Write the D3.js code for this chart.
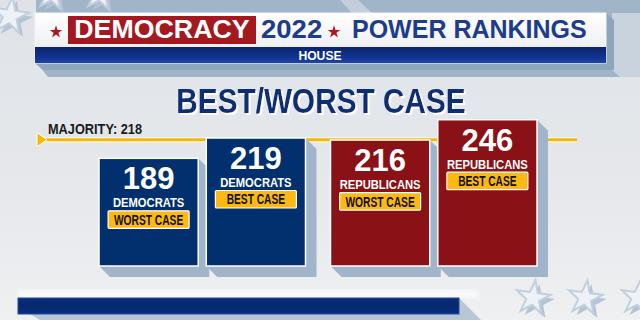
<!DOCTYPE html>
<html>
<head>
<meta charset="utf-8">
<script src="https://cdn.jsdelivr.net/npm/d3@7"></script>
<style>
  html, body { margin: 0; padding: 0; background: #e3e6ea; }
  svg { display: block; }
  text { font-family: "Liberation Sans", Arial, sans-serif; font-weight: bold; }
</style>
</head>
<body>
<div id="chart"></div>
<script>
// Chart values
const parties = ['DEMOCRATS', 'DEMOCRATS', 'REPUBLICANS', 'REPUBLICANS'];
const cases = ['WORST CASE', 'BEST CASE', 'WORST CASE', 'BEST CASE'];
const seats = [189, 219, 216, 246];
const majority = 218;
const majorityLabel = 'MAJORITY: ' + majority;
const title = 'BEST/WORST CASE';
const chamber = 'HOUSE';

const width = 640, height = 320;
const partyColor = { DEMOCRATS: '#02306f', REPUBLICANS: '#8a1116' };

const svg = d3.select('#chart').append('svg')
    .attr('width', width).attr('height', height);

const defs = svg.append('defs');
function gradient(id, stops, vertical = true) {
    const g = defs.append('linearGradient').attr('id', id)
        .attr('x1', 0).attr('y1', 0).attr('x2', vertical ? 0 : 1).attr('y2', vertical ? 1 : 0);
    stops.forEach(([o, c]) => g.append('stop').attr('offset', o).attr('stop-color', c));
}
gradient('bg', [[0, '#dfe3e8'], [0.6, '#e6e8eb'], [1, '#eef0f2']]);
gradient('band', [[0, '#ffffff'], [1, '#e6e8ec']]);
gradient('strip', [[0, '#0a2468'], [0.7, '#123594'], [1, '#1c46a6']]);
gradient('floor', [[0, '#0b2c74'], [0.5, '#03296c'], [1, '#0a2f7e']]);
const blur = defs.append('filter').attr('id', 'soft');
blur.append('feGaussianBlur').attr('stdDeviation', 2);
// Light drop shadow for the big title
defs.append('filter').attr('id', 'lift')
    .append('feDropShadow').attr('dx', 2).attr('dy', 2).attr('stdDeviation', 0.6)
    .attr('flood-color', '#ffffff').attr('flood-opacity', 0.9);

// Background
svg.append('rect').attr('width', width).attr('height', height).attr('fill', 'url(#bg)');
svg.append('path')
    .attr('d', 'M36,0 L640,0 L640,13 L620,13 L620,77 L48,77 L36,62 Z')
    .attr('fill', '#a1b5c9');
svg.append('path')
    .attr('d', 'M612,13 L640,13 L640,77 L620,77 L612,70 Z')
    .attr('fill', '#c9d3de');
svg.append('path')
    .attr('d', 'M340,0 L358,0 L372,13 L352,13 Z')
    .attr('fill', '#c3cfdb');

// Decorative stars
const star = d3.symbol().type(d3.symbolStar);
function drawStar(cx, cy, size) {
    svg.append('path').attr('d', star.size(size)())
        .attr('transform', `translate(${cx + 4},${cy + 4}) rotate(8)`)
        .attr('fill', '#b4c4d4');
    svg.append('path').attr('d', star.size(size)())
        .attr('transform', `translate(${cx},${cy}) rotate(8)`)
        .attr('fill', '#eef2f7').attr('stroke', '#c2cfdc').attr('stroke-width', 2);
}
[[10, 16, 420], [52, -6, 320], [100, -6, 320]].forEach(d => drawStar(...d));
[[533, 298, 360], [585, 298, 360], [638, 298, 360]].forEach(d => drawStar(...d));

// Header banner
svg.append('path')
    .attr('d', 'M606,13 L614,20 L614,70 L43,70 L35,63 L606,63 Z')
    .attr('fill', '#8ea5bc');
svg.append('rect').attr('x', 35).attr('y', 13).attr('width', 571).attr('height', 50)
    .attr('fill', 'url(#band)').attr('stroke', '#f4f6f8').attr('stroke-width', 1);
svg.append('rect').attr('x', 35).attr('y', 47).attr('width', 571).attr('height', 16)
    .attr('fill', 'url(#strip)');
svg.append('rect').attr('x', 68).attr('y', 16).attr('width', 188).attr('height', 28)
    .attr('fill', '#a3191f');

function squeeze(sel, k) {
    sel.each(function () {
        const w = this.getComputedTextLength();
        d3.select(this).attr('textLength', w * k).attr('lengthAdjust', 'spacingAndGlyphs');
    });
    return sel;
}

const redStar = d3.symbol().type(d3.symbolStar).size(50);
[56, 334].forEach(cx => svg.append('path').attr('d', redStar())
    .attr('transform', `translate(${cx},32)`).attr('fill', '#b0161d'));

squeeze(svg.append('text').attr('x', 162).attr('y', 38).attr('text-anchor', 'middle')
    .attr('font-size', 25).attr('fill', '#ffffff').text('DEMOCRACY'), 1.07);
squeeze(svg.append('text').attr('x', 261).attr('y', 38)
    .attr('font-size', 25).attr('fill', '#1d3c8b').text('2022'), 1.1);
squeeze(svg.append('text').attr('x', 352).attr('y', 38)
    .attr('font-size', 25).attr('fill', '#1d3c8b').text('POWER RANKINGS'), 1.0);
squeeze(svg.append('text').attr('x', 320).attr('y', 60).attr('text-anchor', 'middle')
    .attr('font-size', 13.5).attr('fill', '#ffffff').text(chamber), 0.9);

// Title
squeeze(svg.append('text').attr('x', 321).attr('y', 113).attr('text-anchor', 'middle')
    .attr('font-size', 35).attr('fill', '#0d2f6f').attr('filter', 'url(#lift)')
    .text(title), 0.85);

// Scales
const x0 = d3.scaleBand().domain(['DEMOCRATS', 'REPUBLICANS']).range([99, 537]).paddingInner(0.108);
const x1 = d3.scaleBand().domain(['WORST CASE', 'BEST CASE']).range([0, x0.bandwidth()]).paddingInner(0.075);
const y = d3.scaleLinear().domain([30, 250]).range([266, 117]);

const data = seats.map((v, i) => ({ party: parties[i], kase: cases[i], value: v }));
const bx = d => x0(d.party) + x1(d.kase);
const bw = x1.bandwidth();
const base = y.range()[0];

// Majority line (behind bars)
const my = y(majority) + 1;
svg.append('line').attr('x1', 40).attr('x2', 577).attr('y1', my).attr('y2', my)
    .attr('stroke', '#ffffff').attr('stroke-width', 5).attr('opacity', 0.8);
svg.append('line').attr('x1', 40).attr('x2', 577).attr('y1', my).attr('y2', my)
    .attr('stroke', '#f6b700').attr('stroke-width', 3);
svg.append('path').attr('d', `M37,${my - 7} L47,${my} L37,${my + 7} Z`)
    .attr('fill', '#f6b700').attr('stroke', '#ffffff').attr('stroke-width', 1);
squeeze(svg.append('text').attr('x', 48).attr('y', 134).attr('font-size', 15)
    .attr('fill', '#1b1b1b').text(majorityLabel), 0.85);

// Bar extrusions
const dx = 11, dy = 11;
svg.selectAll('path.shade').data(data).join('path').attr('class', 'shade')
    .attr('d', d => {
        const x = bx(d), t = y(d.value);
        return `M${x + bw},${t} L${x + bw + dx},${t + dy} L${x + bw + dx},${base + dy} ` +
               `L${x + dx},${base + dy} L${x},${base} Z`;
    })
    .attr('fill', '#a0b5c9');

// Bars
svg.selectAll('rect.bar').data(data).join('rect').attr('class', 'bar')
    .attr('x', bx).attr('y', d => y(d.value))
    .attr('width', bw).attr('height', d => base - y(d.value))
    .attr('fill', d => partyColor[d.party])
    .attr('stroke', '#ffffff').attr('stroke-width', 1.5);

const cx = d => bx(d) + bw / 2;

svg.selectAll('text.num').data(data).join('text').attr('class', 'num')
    .attr('x', cx).attr('y', d => y(d.value) + 31)
    .attr('text-anchor', 'middle').attr('font-size', 31).attr('fill', '#ffffff')
    .text(d => d.value);

squeeze(svg.selectAll('text.party').data(data).join('text').attr('class', 'party')
    .attr('x', cx).attr('y', d => y(d.value) + 49)
    .attr('text-anchor', 'middle').attr('font-size', 13.5).attr('fill', '#ffffff')
    .text(d => d.party), 0.83);

svg.selectAll('rect.badge').data(data).join('rect').attr('class', 'badge')
    .attr('x', d => cx(d) - 40.5).attr('y', d => y(d.value) + 52.5)
    .attr('width', 81).attr('height', 17.5).attr('rx', 1)
    .attr('fill', '#fdb913').attr('stroke', '#ffffff').attr('stroke-width', 1.2);

squeeze(svg.selectAll('text.case').data(data).join('text').attr('class', 'case')
    .attr('x', cx).attr('y', d => y(d.value) + 66.5)
    .attr('text-anchor', 'middle').attr('font-size', 14).attr('fill', '#111111')
    .text(d => d.kase), 0.73);

// Bottom floor bar
svg.append('rect').attr('x', 18).attr('y', 290).attr('width', 460).attr('height', 8)
    .attr('fill', '#ffffff').attr('opacity', 0.7).attr('filter', 'url(#soft)');
svg.append('path').attr('d', 'M459,298 L481,320 L40,320 L30,314 L459,314 Z')
    .attr('fill', '#b9c6d3');
svg.append('rect').attr('x', 18).attr('y', 298).attr('width', 441).attr('height', 16)
    .attr('fill', 'url(#floor)').attr('stroke', '#2148b0').attr('stroke-width', 1);
</script>
</body>
</html>
